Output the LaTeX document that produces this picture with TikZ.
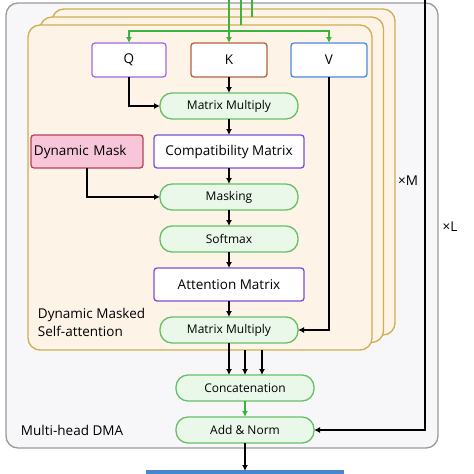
\documentclass[tikz,border=0pt]{standalone}
\usepackage{fontspec}
\setmainfont{Open Sans}
\usetikzlibrary{positioning,arrows.meta}
\definecolor{headgold}{HTML}{CFAE52}
\definecolor{headfill}{HTML}{FDF4E7}
\definecolor{outergray}{HTML}{9A9A9A}
\definecolor{outerfill}{HTML}{F7F7F9}
\definecolor{opgreen}{HTML}{66C166}
\definecolor{opfill}{HTML}{EAF8EA}
\definecolor{ingreen}{HTML}{3DB33D}
\definecolor{qpurple}{HTML}{9B6BE0}
\definecolor{apurple}{HTML}{7A4FD8}
\definecolor{kred}{HTML}{B5603F}
\definecolor{vblue}{HTML}{4A88E0}
\definecolor{maskred}{HTML}{B8405A}
\definecolor{maskpink}{HTML}{F7C6D9}
\definecolor{outblue}{HTML}{4A86CF}
\begin{document}
\begin{tikzpicture}[x=1pt, y=-1pt, node distance=16pt, line width=1.3pt,
  big/.style = {font=\fontsize{13.5}{18}\selectfont},
  box/.style = {draw, big, rounded corners=3pt, fill=white, minimum height=33pt, inner sep=0pt, outer sep=0pt},
  pill/.style = {draw=opgreen, fill=opfill, rounded corners=12pt, minimum width=138pt, minimum height=26pt, inner sep=0pt, outer sep=0pt, font=\fontsize{12}{14}\selectfont},
  arr/.style = {-{Latex[length=6pt,width=6pt]}, line width=1.5pt},
  garr/.style = {arr, draw=ingreen}]
\useasboundingbox (0,0) rectangle (474,474);
% outer block and the stacked heads
\draw[draw=outergray, fill=outerfill, rounded corners=12pt] (6,3) rectangle (438,448);
\foreach \d in {2,1,0}
  \draw[draw=headgold, fill=headfill, rounded corners=12pt] (28+12*\d, 25-8*\d) rectangle (372+11.5*\d, 350-7.5*\d);
% nodes
\node[box, draw=kred, minimum width=76pt, minimum height=34pt] (K) at (229,60) {K};
\node[box, draw=qpurple, minimum width=74pt, minimum height=34pt, left=25pt of K] (Q) {Q};
\node[box, draw=vblue, minimum width=76pt, minimum height=34pt, right=24pt of K] (V) {V};
\node[pill, below=of K] (mm1) {Matrix Multiply};
\node[box, draw=apurple, minimum width=150pt, below=of mm1] (compat) {Compatibility Matrix};
\node[box, draw=maskred, fill=maskpink, minimum width=112pt, text width=106pt, align=left, left=11pt of compat] (dmask) {Dynamic Mask};
\node[pill, below=of compat] (masking) {Masking};
\node[pill, below=of masking] (softmax) {Softmax};
\node[box, draw=apurple, minimum width=150pt, below=of softmax] (attn) {Attention Matrix};
\node[pill, below=of attn] (mm2) {Matrix Multiply};
\node[pill, below=32pt of mm2, xshift=16pt] (concat) {Concatenation};
\node[pill, below=of concat] (addnorm) {Add \& Norm};
\node[draw=outblue, fill=outblue, minimum width=196pt, minimum height=20pt, inner sep=0pt, outer sep=0pt, below=28pt of addnorm] (out) {};
% labels
\node[big] (xm) at (408,181) {×M};
\node[big] (xl) at (450,227) {×L};
\node[big, align=left, anchor=west] (dmsa) at (34,322) {Dynamic Masked\\ Self-attention};
\node[big, anchor=west] (mhd) at (17,430) {Multi-head DMA};
% inputs
\coordinate (inK) at (229,0);
\coordinate (in2) at (241,0);
\coordinate (in2e) at (241,25);
\coordinate (in3) at (252,0);
\coordinate (in3e) at (252,17);
\coordinate (split) at (229,31);
\draw[garr] (inK) -- (K.north);
\draw[ingreen, line width=1.5pt] (in2) -- (in2e);
\draw[ingreen, line width=1.5pt] (in3) -- (in3e);
\draw[garr] (split) -| (Q.north);
\draw[garr] (split) -| (V.north);
% attention flow
\draw[arr] (K) -- (mm1);
\draw[arr] (Q.south) |- (mm1.west);
\draw[arr] (mm1) -- (compat);
\draw[arr] (compat) -- (masking);
\draw[arr] (dmask.south) |- (masking.west);
\draw[arr] (masking) -- (softmax);
\draw[arr] (softmax) -- (attn);
\draw[arr] (attn) -- (mm2);
\draw[arr] (V.south) |- (mm2.east);
% heads to concatenation
\coordinate (h2) at (245,350);
\coordinate (h3) at (262,350);
\draw[arr] (mm2.south) -- (mm2.south |- concat.north);
\draw[arr] (h2) -- (h2 |- concat.north);
\draw[arr] (h3) -- (h3 |- concat.north);
\draw[garr] (concat) -- (addnorm);
\draw[arr] (addnorm) -- (out);
% residual
\coordinate (res) at (425,0);
\draw[arr] (res) |- (addnorm.east);
\end{tikzpicture}
\end{document}
